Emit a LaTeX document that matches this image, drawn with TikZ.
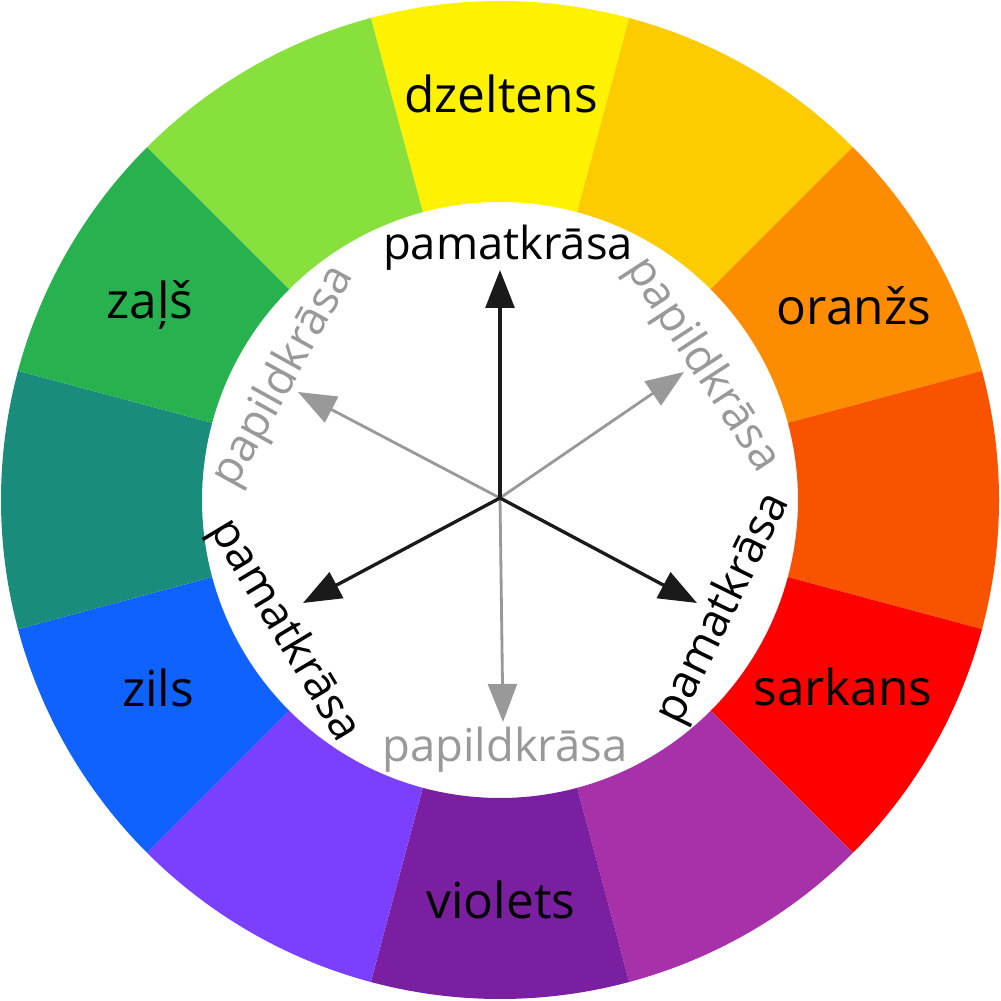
\documentclass[tikz,border=0pt]{standalone}
\usepackage{fontspec}
\setmainfont{Open Sans}
\usetikzlibrary{arrows.meta}
\definecolor{cY}{HTML}{FEF200}
\definecolor{cYO}{HTML}{FCCC00}
\definecolor{cO}{HTML}{FD8C00}
\definecolor{cRO}{HTML}{FA5300}
\definecolor{cR}{HTML}{FE0000}
\definecolor{cRV}{HTML}{A731A9}
\definecolor{cV}{HTML}{7A1FA0}
\definecolor{cBV}{HTML}{7A40FD}
\definecolor{cB}{HTML}{0F62FE}
\definecolor{cBG}{HTML}{1A8C7C}
\definecolor{cG}{HTML}{27B24F}
\definecolor{cYG}{HTML}{88E03D}
\definecolor{grayarrow}{HTML}{999999}
\definecolor{blackarrow}{HTML}{1A1A1A}
\tikzset{
  colorlabel/.style={anchor=base, inner sep=0pt, font=\fontsize{14.1}{16}\selectfont, text=black},
  primlabel/.style={inner sep=0pt, font=\fontsize{12.9}{15}\selectfont, text=black},
  seclabel/.style={inner sep=0pt, font=\fontsize{12.9}{15}\selectfont, text=grayarrow},
  primarrow/.style={draw=blackarrow, line width=0.95pt, -{Triangle[length=10.8pt, width=8.2pt]}},
  secarrow/.style={draw=grayarrow, line width=0.8pt, -{Triangle[length=10.8pt, width=8.2pt]}}
}
\begin{document}
\begin{tikzpicture}[x=0.01cm, y=0.01cm]
\useasboundingbox (-500,-501) rectangle (501,500);
\fill[white] (-500,-501) rectangle (501,500);
% ring sectors
\foreach \a/\c in {90/cY, 60/cYO, 30/cO, 0/cRO, -30/cR, -60/cRV, -90/cV, -120/cBV, -150/cB, 180/cBG, 150/cG, 120/cYG}{
  \fill[\c] (\a-15:499) arc[start angle=\a-15, end angle=\a+15, radius=499]
     -- (\a+15:298) arc[start angle=\a+15, end angle=\a-15, radius=298] -- cycle;
}
% colour names
\node[colorlabel] (yel) at (1,387) {dzeltens};
\node[colorlabel] (ora) at (354,175) {oranžs};
\node[colorlabel] (red) at (343,-206) {sarkans};
\node[colorlabel] (vio) at (1,-418) {violets};
\node[colorlabel] (blu) at (-342,-207) {zils};
\node[colorlabel] (gre) at (-350,181) {zaļš};
% arrows
\coordinate (c) at (0,2);
\coordinate (pt) at (0,230);
\coordinate (pl) at (-197,-103);
\coordinate (pr) at (197,-103);
\coordinate (sl) at (-202,108);
\coordinate (sr) at (184,128);
\coordinate (sd) at (3,-222);
\draw[secarrow] (c) -- (sl);
\draw[secarrow] (c) -- (sr);
\draw[secarrow] (c) -- (sd);
\draw[primarrow] (c) -- (pt);
\draw[primarrow] (c) -- (pl);
\draw[primarrow] (c) -- (pr);
% inner labels
\node[primlabel, anchor=base] (lt) at (8,240) {pamatkrāsa};
\node[primlabel, rotate=64] (lr) at (224,-109) {pamatkrāsa};
\node[primlabel, rotate=-59] (ll) at (-216,-131) {pamatkrāsa};
\node[seclabel, anchor=base] (ld) at (5,-262) {papildkrāsa};
\node[seclabel, rotate=61] (lul) at (-216,123) {papildkrāsa};
\node[seclabel, rotate=-57] (lur) at (202,135) {papildkrāsa};
\end{tikzpicture}
\end{document}
